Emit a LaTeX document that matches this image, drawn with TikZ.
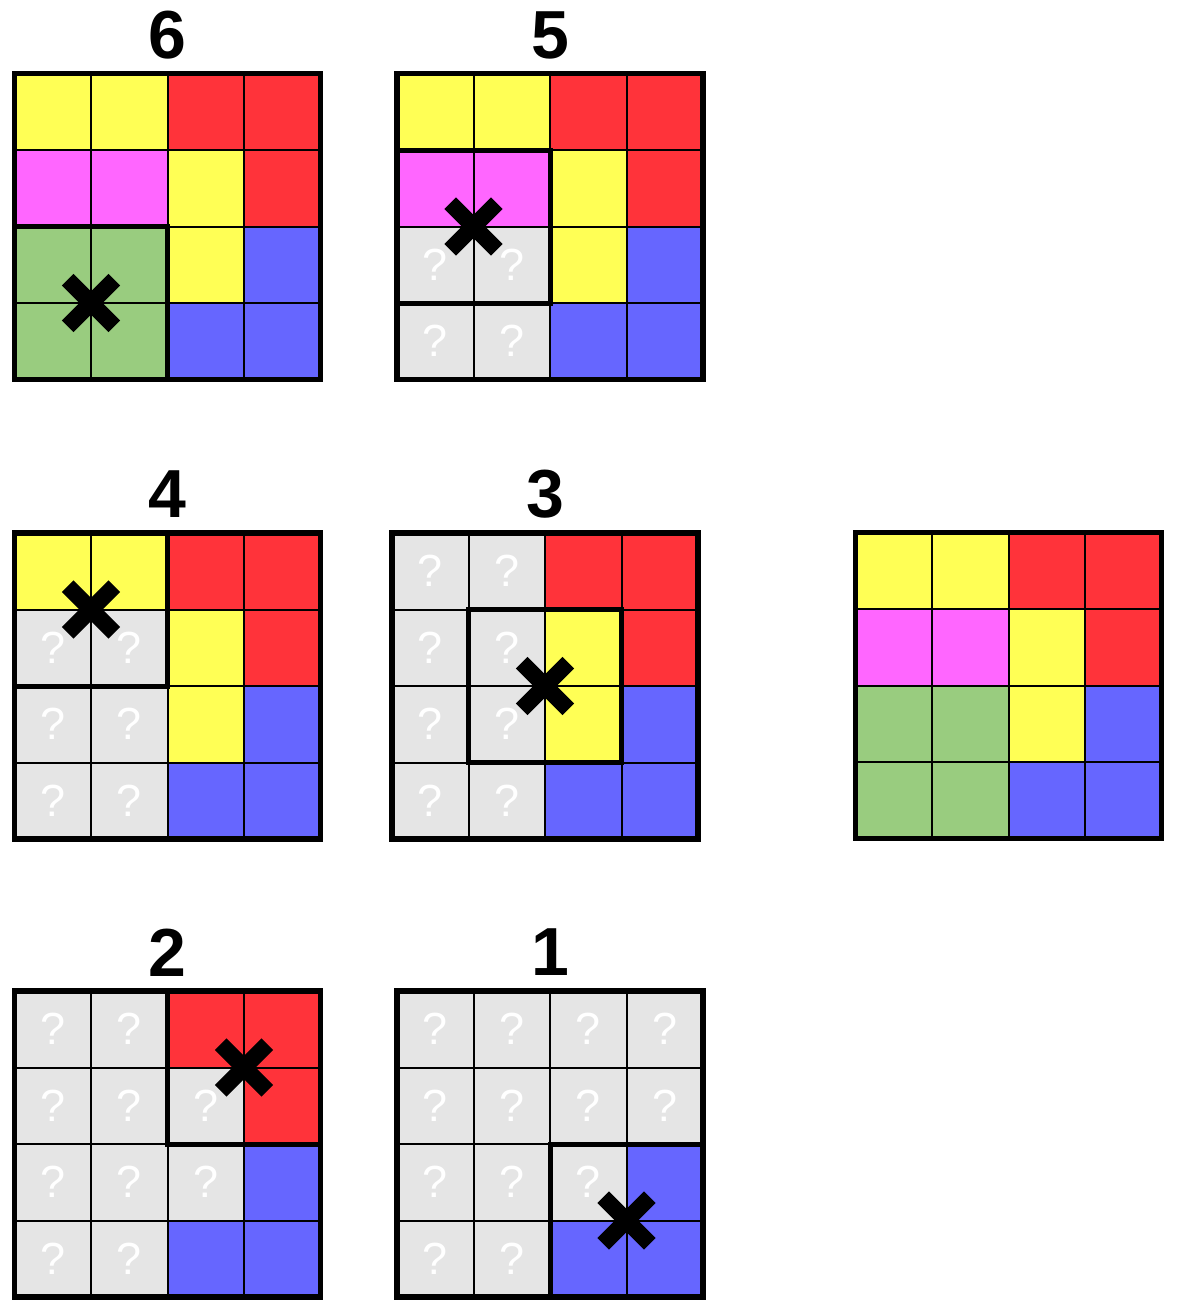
\documentclass[tikz,border=0pt]{standalone}
\usepackage{fontspec}
\setmainfont{Liberation Sans}
\definecolor{cY}{HTML}{FFFF55}
\definecolor{cR}{HTML}{FF333A}
\definecolor{cM}{HTML}{FF66FF}
\definecolor{cB}{HTML}{6666FF}
\definecolor{cG}{HTML}{99CC7F}
\definecolor{cE}{HTML}{E5E5E5}
\newcommand\csz{76.5}
\tikzset{
  thingrid/.style={line width=2pt, black},
  outerbox/.style={line width=5.5pt, black},
  hlbox/.style={line width=5pt, black, line join=miter},
  qm/.style={inner sep=0pt, text=white, font=\fontsize{45}{45}\selectfont},
  title/.style={inner sep=0pt, font=\fontsize{68}{68}\selectfont\bfseries},
  xmark/.style={line width=16.5pt, black, line cap=butt}
}
\newcommand\gridat[4]{%
  \foreach \c [count=\i from 0] in {#4} {
    \pgfmathtruncatemacro\col{mod(\i,4)}
    \pgfmathtruncatemacro\row{int(\i/4)}
    \path[fill=c\c] (#2+\col*\csz, #3+\row*\csz) rectangle ++(\csz,\csz);
    \if E\c
      \node[qm] (#1-\row-\col) at (#2+\col*\csz+\csz/2, #3+\row*\csz+\csz/2) {?};
    \fi
  }
  \foreach \k in {1,2,3} {
    \draw[thingrid] (#2+\k*\csz, #3) -- ++(0, 4*\csz);
    \draw[thingrid] (#2, #3+\k*\csz) -- ++(4*\csz, 0);
  }
  \draw[outerbox] (#2, #3) rectangle ++(4*\csz, 4*\csz);
}
\newcommand\xat[1]{\draw[xmark] (#1) +(-23.3,-23.3) -- +(23.3,23.3) (#1) +(-23.3,23.3) -- +(23.3,-23.3);}
\begin{document}
\begin{tikzpicture}[x=1pt, y=-1pt]
\useasboundingbox (0,0) rectangle (1178,1309);
\fill[white] (0,0) rectangle (1178,1309);

% grid 6
\gridat{g6}{14.5}{73.5}{Y,Y,R,R,M,M,Y,R,G,G,Y,B,G,G,B,B}
\draw[hlbox] (14.5, 73.5+2*\csz) rectangle ++(2*\csz, 2*\csz);
\node[title] (t6) at (14.5+2*\csz, 73.5-38.5) {6};
\coordinate (x6) at (14.5+\csz, 73.5+3*\csz);
\xat{x6}

% grid 5
\gridat{g5}{397}{73.5}{Y,Y,R,R,M,M,Y,R,E,E,Y,B,E,E,B,B}
\draw[hlbox] (397, 73.5+\csz) rectangle ++(2*\csz, 2*\csz);
\node[title] (t5) at (397+2*\csz, 73.5-38.5) {5};
\coordinate (x5) at (397+\csz, 73.5+2*\csz);
\xat{x5}

% grid 4
\gridat{g4}{14.5}{533}{Y,Y,R,R,E,E,Y,R,E,E,Y,B,E,E,B,B}
\draw[hlbox] (14.5, 533) rectangle ++(2*\csz, 2*\csz);
\node[title] (t4) at (14.5+2*\csz, 533-38.5) {4};
\coordinate (x4) at (14.5+\csz, 533+\csz);
\xat{x4}

% grid 3
\gridat{g3}{392}{533}{E,E,R,R,E,E,Y,R,E,E,Y,B,E,E,B,B}
\draw[hlbox] (392+\csz, 533+\csz) rectangle ++(2*\csz, 2*\csz);
\node[title] (t3) at (392+2*\csz, 533-38.5) {3};
\coordinate (x3) at (392+2*\csz, 533+2*\csz);
\xat{x3}

% final grid
\gridat{gf}{855.5}{532.5}{Y,Y,R,R,M,M,Y,R,G,G,Y,B,G,G,B,B}

% grid 2
\gridat{g2}{14.5}{991}{E,E,R,R,E,E,E,R,E,E,E,B,E,E,B,B}
\draw[hlbox] (14.5+2*\csz, 991) rectangle ++(2*\csz, 2*\csz);
\node[title] (t2) at (14.5+2*\csz, 991-38.5) {2};
\coordinate (x2) at (14.5+3*\csz, 991+\csz);
\xat{x2}

% grid 1
\gridat{g1}{397}{991}{E,E,E,E,E,E,E,E,E,E,E,B,E,E,B,B}
\draw[hlbox] (397+2*\csz, 991+2*\csz) rectangle ++(2*\csz, 2*\csz);
\node[title] (t1) at (397+2*\csz, 991-38.5) {1};
\coordinate (x1) at (397+3*\csz, 991+3*\csz);
\xat{x1}
\end{tikzpicture}
\end{document}
